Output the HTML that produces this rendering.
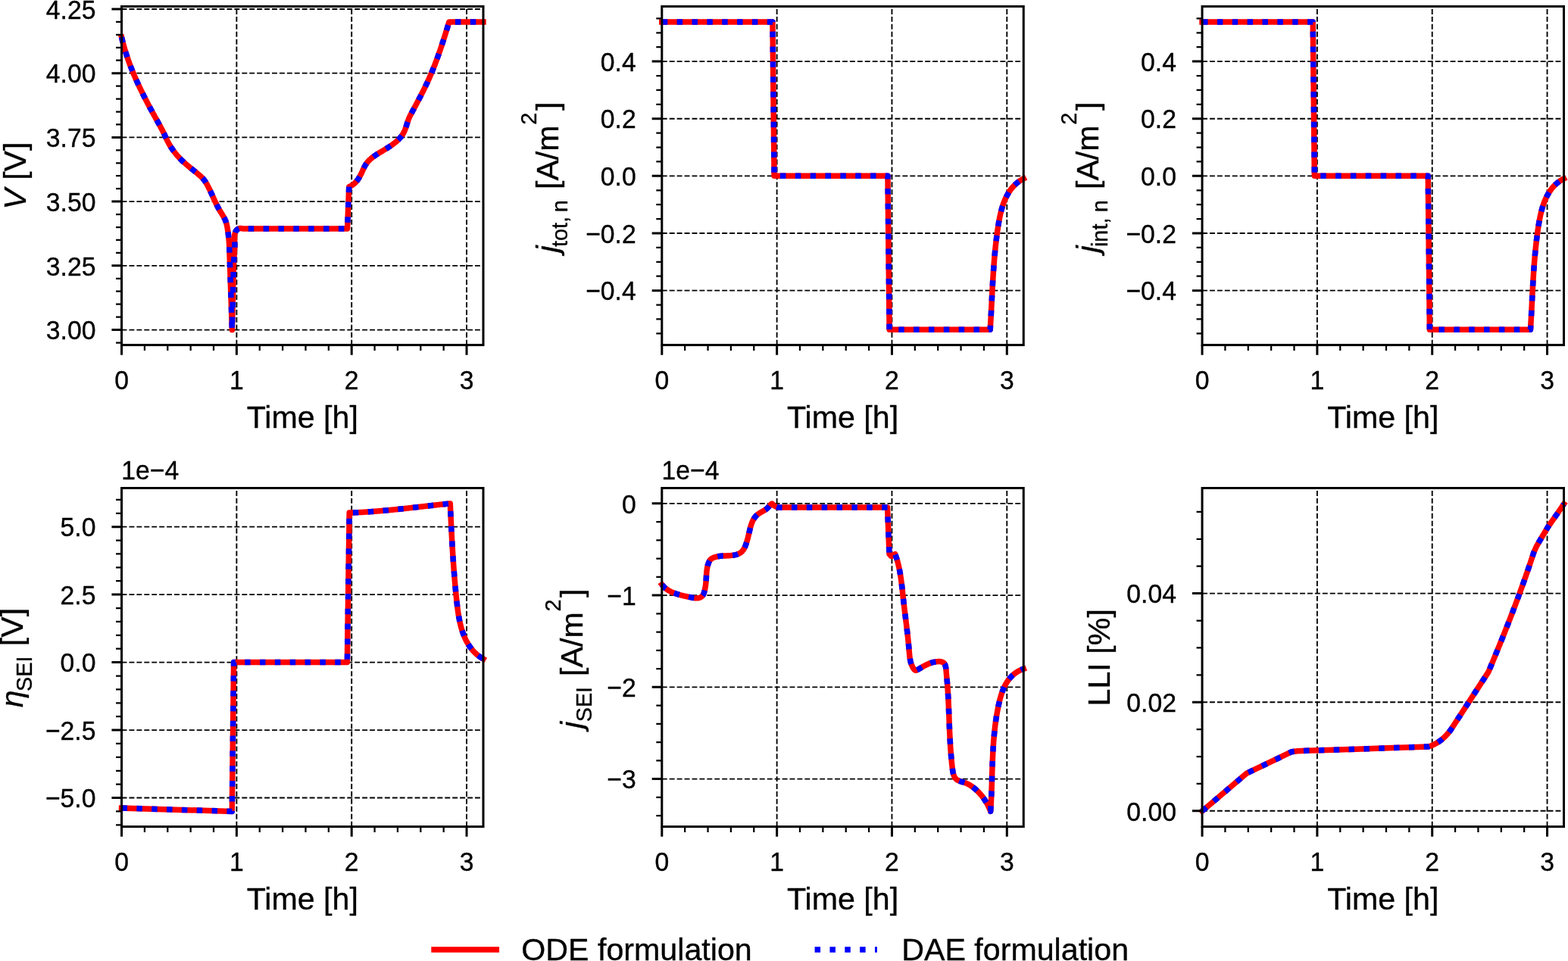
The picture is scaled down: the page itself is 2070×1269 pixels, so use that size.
<!DOCTYPE html>
<html lang="en">
<head>
<meta charset="utf-8">
<title>ODE vs DAE formulation</title>
<style>
html,body{margin:0;padding:0;background:#fff}
body{width:2070px;height:1269px;overflow:hidden}
svg{display:block}
text{font-family:"Liberation Sans",Arial,Helvetica,sans-serif;fill:#000;stroke:#000;stroke-width:0.35px;stroke-linejoin:round}
.tk{font-size:33.7px}
.lb{font-size:41.2px}
.li{font-size:41.2px;font-style:italic}
.sb{font-size:28.84px}
.grid{fill:none;stroke:#000;stroke-width:1.8725;stroke-dasharray:6.9283 2.9960}
.ode{fill:none;stroke:#f00;stroke-width:7.4900;stroke-linecap:square;stroke-linejoin:round}
.dae{fill:none;stroke:#00f;stroke-width:7.4900;stroke-dasharray:7.4900 12.3585;stroke-linejoin:round}
.mj{fill:none;stroke:#000;stroke-width:3}
.mn{fill:none;stroke:#000;stroke-width:2.25}
.sp{fill:none;stroke:#000;stroke-width:3;stroke-linejoin:miter}
</style>
</head>
<body>
<svg width="2070" height="1269" viewBox="0 0 2070 1269">
<rect x="0" y="0" width="2070" height="1269" fill="#fff"/>
<g id="ax1">
<path class="grid" d="M160.55 455.6V8.5M312.38 455.6V8.5M464.21 455.6V8.5M616.04 455.6V8.5M160.55 435.57H638M160.55 350.85H638M160.55 266.12H638M160.55 181.4H638M160.55 96.67H638M160.55 11.94H638"/>
<path class="ode" d="M160.5 49.1L160.84 50.56L161.18 52.03L161.54 53.48L161.9 54.94L162.28 56.39L162.66 57.85L163.05 59.29L163.45 60.74L163.85 62.18L164.27 63.62L164.69 65.06L165.12 66.5L165.56 67.93L166 69.36L166.46 70.79L166.92 72.22L167.38 73.64L167.86 75.06L168.34 76.48L168.83 77.9L169.33 79.31L169.83 80.72L170.34 82.13L170.86 83.54L171.38 84.95L171.91 86.35L172.45 87.75L172.99 89.15L173.54 90.54L174.09 91.94L174.66 93.33L175.22 94.72L175.79 96.11L176.37 97.49L176.96 98.87L177.54 100.25L178.14 101.63L178.74 103.01L179.34 104.39L179.95 105.76L180.57 107.13L181.19 108.5L181.81 109.86L182.44 111.23L183.07 112.59L183.71 113.95L184.36 115.31L185 116.67L185.65 118.02L186.31 119.38L186.97 120.73L187.63 122.08L188.3 123.43L188.97 124.77L189.64 126.12L190.32 127.46L191 128.8L191.68 130.14L192.37 131.48L193.06 132.81L193.75 134.15L194.44 135.48L195.14 136.81L195.84 138.14L196.55 139.47L197.25 140.79L197.96 142.12L198.67 143.44L199.38 144.76L200.1 146.08L200.82 147.4L201.53 148.72L202.25 150.03L202.98 151.34L203.7 152.66L204.42 153.97L205.15 155.28L205.87 156.59L206.6 157.9L207.32 159.21L208.05 160.52L208.77 161.83L209.49 163.14L210.21 164.45L210.92 165.76L211.64 167.08L212.35 168.39L213.06 169.71L213.76 171.03L214.46 172.36L215.14 173.69L215.82 175.02L216.47 176.37L217.11 177.72L217.75 179.07L218.38 180.43L219 181.79L219.64 183.14L220.28 184.49L220.93 185.84L221.6 187.17L222.29 188.5L223.01 189.81L223.75 191.11L224.51 192.4L225.3 193.68L226.11 194.94L226.94 196.19L227.79 197.43L228.66 198.66L229.55 199.87L230.46 201.07L231.39 202.25L232.34 203.42L233.31 204.58L234.29 205.72L235.29 206.84L236.31 207.95L237.34 209.05L238.39 210.13L239.45 211.2L240.53 212.24L241.63 213.28L242.73 214.3L243.85 215.3L244.98 216.3L246.11 217.28L247.26 218.25L248.41 219.21L249.57 220.17L250.73 221.12L251.9 222.07L253.07 223.01L254.24 223.95L255.42 224.89L256.59 225.83L257.76 226.77L258.92 227.72L260.09 228.67L261.24 229.62L262.39 230.59L263.54 231.56L264.66 232.55L265.75 233.56L266.81 234.6L267.83 235.67L268.79 236.79L269.7 237.96L270.55 239.16L271.36 240.4L272.13 241.67L272.88 242.95L273.61 244.25L274.32 245.56L275.02 246.88L275.7 248.21L276.37 249.55L277.02 250.9L277.67 252.25L278.31 253.61L278.94 254.98L279.56 256.35L280.18 257.72L280.8 259.1L281.42 260.47L282.04 261.85L282.66 263.22L283.29 264.59L283.92 265.96L284.55 267.33L285.2 268.69L285.86 270.05L286.53 271.39L287.21 272.73L287.91 274.07L288.62 275.39L289.35 276.7L290.1 278L290.88 279.28L291.67 280.56L292.47 281.82L293.27 283.09L294.06 284.36L294.83 285.63L295.57 286.92L296.27 288.23L296.92 289.56L297.52 290.92L298.05 292.31L298.52 293.72L298.93 295.17L299.3 296.63L299.63 298.1L299.92 299.59L300.19 301.09L300.43 302.59L300.67 304.08L300.89 305.58L301.09 307.08L301.29 308.57L301.47 310.06L301.64 311.56L301.8 313.05L301.95 314.54L302.08 316.03L302.21 317.52L302.33 319.02L302.43 320.51L302.53 322L302.61 323.5L302.69 324.99L302.76 326.49L302.81 327.99L302.86 329.5L302.9 331L303.6 350.85L306.4 435.55L308.4 350.85L309.4 331L309.65 329.5L309.82 328L309.91 326.5L309.94 325L309.93 323.49L309.88 321.98L309.8 320.45L309.73 318.92L309.66 317.38L309.61 315.83L309.6 314.26L309.63 312.68L309.73 311.1L309.93 309.55L310.23 308.05L310.68 306.63L311.28 305.33L312.06 304.16L313.04 303.17L314.18 302.38L315.5 301.83L316.99 301.54L318.62 301.55L320.4 301.9L458.6 301.9L460.75 246.6L462.22 245.97L463.6 245.27L464.91 244.49L466.15 243.64L467.32 242.72L468.42 241.74L469.47 240.71L470.45 239.62L471.39 238.49L472.28 237.3L473.12 236.08L473.92 234.82L474.69 233.53L475.42 232.2L476.13 230.85L476.81 229.48L477.47 228.09L478.11 226.69L478.75 225.29L479.39 223.89L480.04 222.49L480.71 221.12L481.41 219.77L482.14 218.45L482.91 217.16L483.74 215.93L484.62 214.74L485.56 213.6L486.54 212.51L487.57 211.46L488.64 210.44L489.75 209.46L490.9 208.52L492.07 207.6L493.27 206.71L494.49 205.84L495.73 205L496.99 204.17L498.25 203.35L499.53 202.55L500.81 201.76L502.1 200.97L503.4 200.19L504.69 199.42L505.99 198.64L507.29 197.87L508.59 197.09L509.89 196.3L511.18 195.51L512.46 194.71L513.74 193.9L515.01 193.07L516.26 192.22L517.51 191.36L518.74 190.47L519.95 189.57L521.15 188.63L522.33 187.67L523.49 186.68L524.62 185.67L525.71 184.62L526.78 183.54L527.81 182.43L528.79 181.3L529.73 180.13L530.62 178.92L531.46 177.69L532.24 176.42L532.95 175.12L533.62 173.78L534.23 172.42L534.79 171.04L535.32 169.63L535.82 168.21L536.29 166.78L536.75 165.34L537.2 163.9L537.65 162.45L538.11 161.02L538.59 159.59L539.1 158.17L539.64 156.77L540.22 155.39L540.85 154.03L541.51 152.68L542.2 151.35L542.9 150.03L543.61 148.71L544.32 147.38L545.03 146.06L545.75 144.74L546.46 143.41L547.17 142.09L547.88 140.76L548.59 139.43L549.3 138.1L550.01 136.78L550.72 135.44L551.43 134.11L552.13 132.78L552.83 131.44L553.53 130.11L554.23 128.77L554.93 127.43L555.62 126.09L556.31 124.75L556.99 123.4L557.68 122.05L558.36 120.71L559.03 119.36L559.7 118L560.37 116.65L561.03 115.29L561.69 113.93L562.34 112.57L562.99 111.21L563.63 109.85L564.27 108.48L564.9 107.11L565.52 105.73L566.14 104.36L566.76 102.98L567.36 101.6L567.97 100.22L568.56 98.83L569.15 97.45L569.74 96.06L570.32 94.67L570.89 93.27L571.46 91.88L572.03 90.48L572.59 89.08L573.14 87.68L573.69 86.28L574.24 84.87L574.78 83.46L575.31 82.05L575.84 80.64L576.37 79.23L576.89 77.82L577.41 76.4L577.93 74.98L578.44 73.56L578.95 72.14L579.45 70.72L579.95 69.3L580.44 67.88L580.94 66.45L581.43 65.02L581.91 63.6L582.39 62.17L582.87 60.74L583.35 59.3L583.82 57.87L584.29 56.44L584.76 55L585.23 53.57L585.69 52.13L586.15 50.7L586.6 49.26L587.06 47.82L587.51 46.38L587.96 44.94L588.41 43.5L588.86 42.06L589.3 40.62L589.74 39.18L590.18 37.74L590.62 36.29L591.06 34.85L591.5 33.41L591.93 31.97L592.37 30.52L592.8 29.08L638 29.08"/>
<path class="dae" d="M160.5 49.1L160.84 50.56L161.18 52.03L161.54 53.48L161.9 54.94L162.28 56.39L162.66 57.85L163.05 59.29L163.45 60.74L163.85 62.18L164.27 63.62L164.69 65.06L165.12 66.5L165.56 67.93L166 69.36L166.46 70.79L166.92 72.22L167.38 73.64L167.86 75.06L168.34 76.48L168.83 77.9L169.33 79.31L169.83 80.72L170.34 82.13L170.86 83.54L171.38 84.95L171.91 86.35L172.45 87.75L172.99 89.15L173.54 90.54L174.09 91.94L174.66 93.33L175.22 94.72L175.79 96.11L176.37 97.49L176.96 98.87L177.54 100.25L178.14 101.63L178.74 103.01L179.34 104.39L179.95 105.76L180.57 107.13L181.19 108.5L181.81 109.86L182.44 111.23L183.07 112.59L183.71 113.95L184.36 115.31L185 116.67L185.65 118.02L186.31 119.38L186.97 120.73L187.63 122.08L188.3 123.43L188.97 124.77L189.64 126.12L190.32 127.46L191 128.8L191.68 130.14L192.37 131.48L193.06 132.81L193.75 134.15L194.44 135.48L195.14 136.81L195.84 138.14L196.55 139.47L197.25 140.79L197.96 142.12L198.67 143.44L199.38 144.76L200.1 146.08L200.82 147.4L201.53 148.72L202.25 150.03L202.98 151.34L203.7 152.66L204.42 153.97L205.15 155.28L205.87 156.59L206.6 157.9L207.32 159.21L208.05 160.52L208.77 161.83L209.49 163.14L210.21 164.45L210.92 165.76L211.64 167.08L212.35 168.39L213.06 169.71L213.76 171.03L214.46 172.36L215.14 173.69L215.82 175.02L216.47 176.37L217.11 177.72L217.75 179.07L218.38 180.43L219 181.79L219.64 183.14L220.28 184.49L220.93 185.84L221.6 187.17L222.29 188.5L223.01 189.81L223.75 191.11L224.51 192.4L225.3 193.68L226.11 194.94L226.94 196.19L227.79 197.43L228.66 198.66L229.55 199.87L230.46 201.07L231.39 202.25L232.34 203.42L233.31 204.58L234.29 205.72L235.29 206.84L236.31 207.95L237.34 209.05L238.39 210.13L239.45 211.2L240.53 212.24L241.63 213.28L242.73 214.3L243.85 215.3L244.98 216.3L246.11 217.28L247.26 218.25L248.41 219.21L249.57 220.17L250.73 221.12L251.9 222.07L253.07 223.01L254.24 223.95L255.42 224.89L256.59 225.83L257.76 226.77L258.92 227.72L260.09 228.67L261.24 229.62L262.39 230.59L263.54 231.56L264.66 232.55L265.75 233.56L266.81 234.6L267.83 235.67L268.79 236.79L269.7 237.96L270.55 239.16L271.36 240.4L272.13 241.67L272.88 242.95L273.61 244.25L274.32 245.56L275.02 246.88L275.7 248.21L276.37 249.55L277.02 250.9L277.67 252.25L278.31 253.61L278.94 254.98L279.56 256.35L280.18 257.72L280.8 259.1L281.42 260.47L282.04 261.85L282.66 263.22L283.29 264.59L283.92 265.96L284.55 267.33L285.2 268.69L285.86 270.05L286.53 271.39L287.21 272.73L287.91 274.07L288.62 275.39L289.35 276.7L290.1 278L290.88 279.28L291.67 280.56L292.47 281.82L293.27 283.09L294.06 284.36L294.83 285.63L295.57 286.92L296.27 288.23L296.92 289.56L297.52 290.92L298.05 292.31L298.52 293.72L298.93 295.17L299.3 296.63L299.63 298.1L299.92 299.59L300.19 301.09L300.43 302.59L300.67 304.08L300.89 305.58L301.09 307.08L301.29 308.57L301.47 310.06L301.64 311.56L301.8 313.05L301.95 314.54L302.08 316.03L302.21 317.52L302.33 319.02L302.43 320.51L302.53 322L302.61 323.5L302.69 324.99L302.76 326.49L302.81 327.99L302.86 329.5L302.9 331L303.6 350.85L306.4 435.55L308.4 350.85L309.4 331L309.65 329.5L309.82 328L309.91 326.5L309.94 325L309.93 323.49L309.88 321.98L309.8 320.45L309.73 318.92L309.66 317.38L309.61 315.83L309.6 314.26L309.63 312.68L309.73 311.1L309.93 309.55L310.23 308.05L310.68 306.63L311.28 305.33L312.06 304.16L313.04 303.17L314.18 302.38L315.5 301.83L316.99 301.54L318.62 301.55L320.4 301.9L458.6 301.9L460.75 246.6L462.22 245.97L463.6 245.27L464.91 244.49L466.15 243.64L467.32 242.72L468.42 241.74L469.47 240.71L470.45 239.62L471.39 238.49L472.28 237.3L473.12 236.08L473.92 234.82L474.69 233.53L475.42 232.2L476.13 230.85L476.81 229.48L477.47 228.09L478.11 226.69L478.75 225.29L479.39 223.89L480.04 222.49L480.71 221.12L481.41 219.77L482.14 218.45L482.91 217.16L483.74 215.93L484.62 214.74L485.56 213.6L486.54 212.51L487.57 211.46L488.64 210.44L489.75 209.46L490.9 208.52L492.07 207.6L493.27 206.71L494.49 205.84L495.73 205L496.99 204.17L498.25 203.35L499.53 202.55L500.81 201.76L502.1 200.97L503.4 200.19L504.69 199.42L505.99 198.64L507.29 197.87L508.59 197.09L509.89 196.3L511.18 195.51L512.46 194.71L513.74 193.9L515.01 193.07L516.26 192.22L517.51 191.36L518.74 190.47L519.95 189.57L521.15 188.63L522.33 187.67L523.49 186.68L524.62 185.67L525.71 184.62L526.78 183.54L527.81 182.43L528.79 181.3L529.73 180.13L530.62 178.92L531.46 177.69L532.24 176.42L532.95 175.12L533.62 173.78L534.23 172.42L534.79 171.04L535.32 169.63L535.82 168.21L536.29 166.78L536.75 165.34L537.2 163.9L537.65 162.45L538.11 161.02L538.59 159.59L539.1 158.17L539.64 156.77L540.22 155.39L540.85 154.03L541.51 152.68L542.2 151.35L542.9 150.03L543.61 148.71L544.32 147.38L545.03 146.06L545.75 144.74L546.46 143.41L547.17 142.09L547.88 140.76L548.59 139.43L549.3 138.1L550.01 136.78L550.72 135.44L551.43 134.11L552.13 132.78L552.83 131.44L553.53 130.11L554.23 128.77L554.93 127.43L555.62 126.09L556.31 124.75L556.99 123.4L557.68 122.05L558.36 120.71L559.03 119.36L559.7 118L560.37 116.65L561.03 115.29L561.69 113.93L562.34 112.57L562.99 111.21L563.63 109.85L564.27 108.48L564.9 107.11L565.52 105.73L566.14 104.36L566.76 102.98L567.36 101.6L567.97 100.22L568.56 98.83L569.15 97.45L569.74 96.06L570.32 94.67L570.89 93.27L571.46 91.88L572.03 90.48L572.59 89.08L573.14 87.68L573.69 86.28L574.24 84.87L574.78 83.46L575.31 82.05L575.84 80.64L576.37 79.23L576.89 77.82L577.41 76.4L577.93 74.98L578.44 73.56L578.95 72.14L579.45 70.72L579.95 69.3L580.44 67.88L580.94 66.45L581.43 65.02L581.91 63.6L582.39 62.17L582.87 60.74L583.35 59.3L583.82 57.87L584.29 56.44L584.76 55L585.23 53.57L585.69 52.13L586.15 50.7L586.6 49.26L587.06 47.82L587.51 46.38L587.96 44.94L588.41 43.5L588.86 42.06L589.3 40.62L589.74 39.18L590.18 37.74L590.62 36.29L591.06 34.85L591.5 33.41L591.93 31.97L592.37 30.52L592.8 29.08L638 29.08"/>
<path class="mn" d="M190.92 455.6v7.49M221.28 455.6v7.49M251.65 455.6v7.49M282.01 455.6v7.49M342.75 455.6v7.49M373.11 455.6v7.49M403.48 455.6v7.49M433.84 455.6v7.49M494.58 455.6v7.49M524.94 455.6v7.49M555.31 455.6v7.49M585.67 455.6v7.49M160.55 452.51h-7.49M160.55 418.63h-7.49M160.55 401.68h-7.49M160.55 384.74h-7.49M160.55 367.79h-7.49M160.55 333.9h-7.49M160.55 316.95h-7.49M160.55 300.01h-7.49M160.55 283.06h-7.49M160.55 249.18h-7.49M160.55 232.23h-7.49M160.55 215.29h-7.49M160.55 198.34h-7.49M160.55 164.45h-7.49M160.55 147.5h-7.49M160.55 130.56h-7.49M160.55 113.61h-7.49M160.55 79.73h-7.49M160.55 62.78h-7.49M160.55 45.83h-7.49M160.55 28.89h-7.49"/>
<path class="mj" d="M160.55 455.6v13.11M312.38 455.6v13.11M464.21 455.6v13.11M616.04 455.6v13.11M160.55 435.57h-13.11M160.55 350.85h-13.11M160.55 266.12h-13.11M160.55 181.4h-13.11M160.55 96.67h-13.11M160.55 11.94h-13.11"/>
<rect class="sp" x="160.55" y="8.5" width="477.45" height="447.1"/>
<text class="tk" text-anchor="middle" transform="translate(160.55 514.2) scale(1 1.06)">0</text>
<text class="tk" text-anchor="middle" transform="translate(312.38 514.2) scale(1 1.06)">1</text>
<text class="tk" text-anchor="middle" transform="translate(464.21 514.2) scale(1 1.06)">2</text>
<text class="tk" text-anchor="middle" transform="translate(616.04 514.2) scale(1 1.06)">3</text>
<text class="tk" text-anchor="end" transform="translate(126.45 448.32) scale(1 1.06)">3.00</text>
<text class="tk" text-anchor="end" transform="translate(126.45 363.6) scale(1 1.06)">3.25</text>
<text class="tk" text-anchor="end" transform="translate(126.45 278.87) scale(1 1.06)">3.50</text>
<text class="tk" text-anchor="end" transform="translate(126.45 194.15) scale(1 1.06)">3.75</text>
<text class="tk" text-anchor="end" transform="translate(126.45 109.42) scale(1 1.06)">4.00</text>
<text class="tk" text-anchor="end" transform="translate(126.45 24.69) scale(1 1.06)">4.25</text>
<text class="lb" text-anchor="middle" x="399.27" y="564.9">Time [h]</text>
<g transform="translate(34.1 232.05) rotate(-90)">
<text class="li" x="-44.6" y="0">V</text>
<text class="lb" x="-5.8" y="0">[V]</text>
</g>
</g>
<g id="ax2">
<path class="grid" d="M873.8 455.6V8.5M1025.63 455.6V8.5M1177.46 455.6V8.5M1329.29 455.6V8.5M873.8 383.65H1351.25M873.8 308.01H1351.25M873.8 232.37H1351.25M873.8 156.73H1351.25M873.8 81.09H1351.25"/>
<path class="ode" d="M873.8 29L1019.95 29L1022.07 232.2L1172 232.2L1174.1 435.3L1307.2 435.3L1307.3 433.79L1307.39 432.27L1307.48 430.76L1307.57 429.25L1307.66 427.74L1307.75 426.23L1307.83 424.72L1307.92 423.21L1308 421.71L1308.09 420.2L1308.17 418.7L1308.25 417.2L1308.33 415.69L1308.41 414.19L1308.49 412.69L1308.57 411.19L1308.64 409.69L1308.72 408.2L1308.8 406.7L1308.87 405.2L1308.95 403.71L1309.02 402.21L1309.1 400.72L1309.17 399.22L1309.25 397.73L1309.32 396.24L1309.4 394.75L1309.48 393.25L1309.55 391.76L1309.63 390.27L1309.7 388.78L1309.78 387.29L1309.86 385.8L1309.94 384.31L1310.01 382.82L1310.09 381.34L1310.17 379.85L1310.26 378.36L1310.34 376.87L1310.42 375.38L1310.5 373.9L1310.59 372.41L1310.68 370.92L1310.76 369.43L1310.85 367.94L1310.94 366.46L1311.04 364.97L1311.13 363.48L1311.23 361.99L1311.32 360.51L1311.42 359.02L1311.52 357.53L1311.63 356.04L1311.73 354.55L1311.84 353.06L1311.95 351.57L1312.06 350.08L1312.17 348.59L1312.29 347.1L1312.41 345.61L1312.53 344.12L1312.65 342.63L1312.78 341.14L1312.91 339.64L1313.04 338.15L1313.17 336.66L1313.31 335.16L1313.45 333.67L1313.59 332.17L1313.74 330.67L1313.89 329.18L1314.04 327.68L1314.2 326.18L1314.36 324.68L1314.52 323.18L1314.69 321.68L1314.86 320.18L1315.03 318.67L1315.21 317.17L1315.39 315.66L1315.58 314.16L1315.77 312.65L1315.96 311.14L1316.16 309.63L1316.36 308.12L1316.57 306.61L1316.78 305.1L1316.99 303.58L1317.21 302.07L1317.44 300.55L1317.67 299.03L1317.9 297.52L1318.15 296L1318.4 294.49L1318.65 292.98L1318.92 291.47L1319.2 289.96L1319.49 288.46L1319.78 286.96L1320.09 285.46L1320.42 283.98L1320.75 282.49L1321.1 281.02L1321.46 279.55L1321.84 278.09L1322.23 276.63L1322.64 275.19L1323.07 273.76L1323.51 272.33L1323.98 270.92L1324.46 269.52L1324.96 268.13L1325.48 266.75L1326.02 265.38L1326.58 264.03L1327.17 262.69L1327.78 261.37L1328.41 260.06L1329.07 258.77L1329.75 257.49L1330.45 256.23L1331.19 254.99L1331.95 253.77L1332.74 252.57L1333.55 251.38L1334.4 250.22L1335.28 249.08L1336.19 247.97L1337.13 246.87L1338.1 245.8L1339.11 244.76L1340.16 243.74L1341.24 242.75L1342.35 241.79L1343.5 240.85L1344.69 239.95L1345.92 239.08L1347.19 238.23L1348.5 237.42L1349.86 236.64L1351.25 235.9"/>
<path class="dae" d="M873.8 29L1019.95 29L1022.07 232.2L1172 232.2L1174.1 435.3L1307.2 435.3L1307.3 433.79L1307.39 432.27L1307.48 430.76L1307.57 429.25L1307.66 427.74L1307.75 426.23L1307.83 424.72L1307.92 423.21L1308 421.71L1308.09 420.2L1308.17 418.7L1308.25 417.2L1308.33 415.69L1308.41 414.19L1308.49 412.69L1308.57 411.19L1308.64 409.69L1308.72 408.2L1308.8 406.7L1308.87 405.2L1308.95 403.71L1309.02 402.21L1309.1 400.72L1309.17 399.22L1309.25 397.73L1309.32 396.24L1309.4 394.75L1309.48 393.25L1309.55 391.76L1309.63 390.27L1309.7 388.78L1309.78 387.29L1309.86 385.8L1309.94 384.31L1310.01 382.82L1310.09 381.34L1310.17 379.85L1310.26 378.36L1310.34 376.87L1310.42 375.38L1310.5 373.9L1310.59 372.41L1310.68 370.92L1310.76 369.43L1310.85 367.94L1310.94 366.46L1311.04 364.97L1311.13 363.48L1311.23 361.99L1311.32 360.51L1311.42 359.02L1311.52 357.53L1311.63 356.04L1311.73 354.55L1311.84 353.06L1311.95 351.57L1312.06 350.08L1312.17 348.59L1312.29 347.1L1312.41 345.61L1312.53 344.12L1312.65 342.63L1312.78 341.14L1312.91 339.64L1313.04 338.15L1313.17 336.66L1313.31 335.16L1313.45 333.67L1313.59 332.17L1313.74 330.67L1313.89 329.18L1314.04 327.68L1314.2 326.18L1314.36 324.68L1314.52 323.18L1314.69 321.68L1314.86 320.18L1315.03 318.67L1315.21 317.17L1315.39 315.66L1315.58 314.16L1315.77 312.65L1315.96 311.14L1316.16 309.63L1316.36 308.12L1316.57 306.61L1316.78 305.1L1316.99 303.58L1317.21 302.07L1317.44 300.55L1317.67 299.03L1317.9 297.52L1318.15 296L1318.4 294.49L1318.65 292.98L1318.92 291.47L1319.2 289.96L1319.49 288.46L1319.78 286.96L1320.09 285.46L1320.42 283.98L1320.75 282.49L1321.1 281.02L1321.46 279.55L1321.84 278.09L1322.23 276.63L1322.64 275.19L1323.07 273.76L1323.51 272.33L1323.98 270.92L1324.46 269.52L1324.96 268.13L1325.48 266.75L1326.02 265.38L1326.58 264.03L1327.17 262.69L1327.78 261.37L1328.41 260.06L1329.07 258.77L1329.75 257.49L1330.45 256.23L1331.19 254.99L1331.95 253.77L1332.74 252.57L1333.55 251.38L1334.4 250.22L1335.28 249.08L1336.19 247.97L1337.13 246.87L1338.1 245.8L1339.11 244.76L1340.16 243.74L1341.24 242.75L1342.35 241.79L1343.5 240.85L1344.69 239.95L1345.92 239.08L1347.19 238.23L1348.5 237.42L1349.86 236.64L1351.25 235.9"/>
<path class="mn" d="M904.17 455.6v7.49M934.53 455.6v7.49M964.9 455.6v7.49M995.26 455.6v7.49M1056 455.6v7.49M1086.36 455.6v7.49M1116.73 455.6v7.49M1147.09 455.6v7.49M1207.83 455.6v7.49M1238.19 455.6v7.49M1268.56 455.6v7.49M1298.92 455.6v7.49M873.8 440.38h-7.49M873.8 421.47h-7.49M873.8 402.56h-7.49M873.8 364.74h-7.49M873.8 345.83h-7.49M873.8 326.92h-7.49M873.8 289.1h-7.49M873.8 270.19h-7.49M873.8 251.28h-7.49M873.8 213.46h-7.49M873.8 194.55h-7.49M873.8 175.64h-7.49M873.8 137.82h-7.49M873.8 118.91h-7.49M873.8 100h-7.49M873.8 62.18h-7.49M873.8 43.27h-7.49M873.8 24.36h-7.49"/>
<path class="mj" d="M873.8 455.6v13.11M1025.63 455.6v13.11M1177.46 455.6v13.11M1329.29 455.6v13.11M873.8 383.65h-13.11M873.8 308.01h-13.11M873.8 232.37h-13.11M873.8 156.73h-13.11M873.8 81.09h-13.11"/>
<rect class="sp" x="873.8" y="8.5" width="477.45" height="447.1"/>
<text class="tk" text-anchor="middle" transform="translate(873.8 514.2) scale(1 1.06)">0</text>
<text class="tk" text-anchor="middle" transform="translate(1025.63 514.2) scale(1 1.06)">1</text>
<text class="tk" text-anchor="middle" transform="translate(1177.46 514.2) scale(1 1.06)">2</text>
<text class="tk" text-anchor="middle" transform="translate(1329.29 514.2) scale(1 1.06)">3</text>
<text class="tk" text-anchor="end" transform="translate(839.7 396.4) scale(1 1.06)">−0.4</text>
<text class="tk" text-anchor="end" transform="translate(839.7 320.76) scale(1 1.06)">−0.2</text>
<text class="tk" text-anchor="end" transform="translate(839.7 245.12) scale(1 1.06)">0.0</text>
<text class="tk" text-anchor="end" transform="translate(839.7 169.48) scale(1 1.06)">0.2</text>
<text class="tk" text-anchor="end" transform="translate(839.7 93.84) scale(1 1.06)">0.4</text>
<text class="lb" text-anchor="middle" x="1112.53" y="564.9">Time [h]</text>
<g transform="translate(737.2 232.05) rotate(-90)">
<text class="li" x="-101.5" y="0">j</text>
<text class="sb" x="-94" y="11.9">tot,</text>
<text class="sb" x="-48.2" y="11.9">n</text>
<text class="lb" x="-18" y="0">[A/m</text>
<text class="sb" x="67.4" y="-29.3">2</text>
<text class="lb" x="85.95" y="0">]</text>
</g>
</g>
<g id="ax3">
<path class="grid" d="M1587.05 455.6V8.5M1738.88 455.6V8.5M1890.71 455.6V8.5M2042.54 455.6V8.5M1587.05 383.65H2064.5M1587.05 308.01H2064.5M1587.05 232.37H2064.5M1587.05 156.73H2064.5M1587.05 81.09H2064.5"/>
<path class="ode" d="M1587.05 29L1733.2 29L1735.32 232.2L1885.25 232.2L1887.35 435.3L2020.45 435.3L2020.55 433.79L2020.64 432.27L2020.73 430.76L2020.82 429.25L2020.91 427.74L2021 426.23L2021.08 424.72L2021.17 423.21L2021.25 421.71L2021.34 420.2L2021.42 418.7L2021.5 417.2L2021.58 415.69L2021.66 414.19L2021.74 412.69L2021.82 411.19L2021.89 409.69L2021.97 408.2L2022.05 406.7L2022.12 405.2L2022.2 403.71L2022.27 402.21L2022.35 400.72L2022.42 399.22L2022.5 397.73L2022.57 396.24L2022.65 394.75L2022.73 393.25L2022.8 391.76L2022.88 390.27L2022.95 388.78L2023.03 387.29L2023.11 385.8L2023.19 384.31L2023.26 382.82L2023.34 381.34L2023.42 379.85L2023.51 378.36L2023.59 376.87L2023.67 375.38L2023.75 373.9L2023.84 372.41L2023.93 370.92L2024.01 369.43L2024.1 367.94L2024.19 366.46L2024.29 364.97L2024.38 363.48L2024.48 361.99L2024.57 360.51L2024.67 359.02L2024.77 357.53L2024.88 356.04L2024.98 354.55L2025.09 353.06L2025.2 351.57L2025.31 350.08L2025.42 348.59L2025.54 347.1L2025.66 345.61L2025.78 344.12L2025.9 342.63L2026.03 341.14L2026.16 339.64L2026.29 338.15L2026.42 336.66L2026.56 335.16L2026.7 333.67L2026.84 332.17L2026.99 330.67L2027.14 329.18L2027.29 327.68L2027.45 326.18L2027.61 324.68L2027.77 323.18L2027.94 321.68L2028.11 320.18L2028.28 318.67L2028.46 317.17L2028.64 315.66L2028.83 314.16L2029.02 312.65L2029.21 311.14L2029.41 309.63L2029.61 308.12L2029.82 306.61L2030.03 305.1L2030.24 303.58L2030.46 302.07L2030.69 300.55L2030.92 299.03L2031.15 297.52L2031.4 296L2031.65 294.49L2031.9 292.98L2032.17 291.47L2032.45 289.96L2032.74 288.46L2033.03 286.96L2033.34 285.46L2033.67 283.98L2034 282.49L2034.35 281.02L2034.71 279.55L2035.09 278.09L2035.48 276.63L2035.89 275.19L2036.32 273.76L2036.76 272.33L2037.23 270.92L2037.71 269.52L2038.21 268.13L2038.73 266.75L2039.27 265.38L2039.83 264.03L2040.42 262.69L2041.03 261.37L2041.66 260.06L2042.32 258.77L2043 257.49L2043.7 256.23L2044.44 254.99L2045.2 253.77L2045.99 252.57L2046.8 251.38L2047.65 250.22L2048.53 249.08L2049.44 247.97L2050.38 246.87L2051.35 245.8L2052.36 244.76L2053.41 243.74L2054.49 242.75L2055.6 241.79L2056.75 240.85L2057.94 239.95L2059.17 239.08L2060.44 238.23L2061.75 237.42L2063.11 236.64L2064.5 235.9"/>
<path class="dae" d="M1587.05 29L1733.2 29L1735.32 232.2L1885.25 232.2L1887.35 435.3L2020.45 435.3L2020.55 433.79L2020.64 432.27L2020.73 430.76L2020.82 429.25L2020.91 427.74L2021 426.23L2021.08 424.72L2021.17 423.21L2021.25 421.71L2021.34 420.2L2021.42 418.7L2021.5 417.2L2021.58 415.69L2021.66 414.19L2021.74 412.69L2021.82 411.19L2021.89 409.69L2021.97 408.2L2022.05 406.7L2022.12 405.2L2022.2 403.71L2022.27 402.21L2022.35 400.72L2022.42 399.22L2022.5 397.73L2022.57 396.24L2022.65 394.75L2022.73 393.25L2022.8 391.76L2022.88 390.27L2022.95 388.78L2023.03 387.29L2023.11 385.8L2023.19 384.31L2023.26 382.82L2023.34 381.34L2023.42 379.85L2023.51 378.36L2023.59 376.87L2023.67 375.38L2023.75 373.9L2023.84 372.41L2023.93 370.92L2024.01 369.43L2024.1 367.94L2024.19 366.46L2024.29 364.97L2024.38 363.48L2024.48 361.99L2024.57 360.51L2024.67 359.02L2024.77 357.53L2024.88 356.04L2024.98 354.55L2025.09 353.06L2025.2 351.57L2025.31 350.08L2025.42 348.59L2025.54 347.1L2025.66 345.61L2025.78 344.12L2025.9 342.63L2026.03 341.14L2026.16 339.64L2026.29 338.15L2026.42 336.66L2026.56 335.16L2026.7 333.67L2026.84 332.17L2026.99 330.67L2027.14 329.18L2027.29 327.68L2027.45 326.18L2027.61 324.68L2027.77 323.18L2027.94 321.68L2028.11 320.18L2028.28 318.67L2028.46 317.17L2028.64 315.66L2028.83 314.16L2029.02 312.65L2029.21 311.14L2029.41 309.63L2029.61 308.12L2029.82 306.61L2030.03 305.1L2030.24 303.58L2030.46 302.07L2030.69 300.55L2030.92 299.03L2031.15 297.52L2031.4 296L2031.65 294.49L2031.9 292.98L2032.17 291.47L2032.45 289.96L2032.74 288.46L2033.03 286.96L2033.34 285.46L2033.67 283.98L2034 282.49L2034.35 281.02L2034.71 279.55L2035.09 278.09L2035.48 276.63L2035.89 275.19L2036.32 273.76L2036.76 272.33L2037.23 270.92L2037.71 269.52L2038.21 268.13L2038.73 266.75L2039.27 265.38L2039.83 264.03L2040.42 262.69L2041.03 261.37L2041.66 260.06L2042.32 258.77L2043 257.49L2043.7 256.23L2044.44 254.99L2045.2 253.77L2045.99 252.57L2046.8 251.38L2047.65 250.22L2048.53 249.08L2049.44 247.97L2050.38 246.87L2051.35 245.8L2052.36 244.76L2053.41 243.74L2054.49 242.75L2055.6 241.79L2056.75 240.85L2057.94 239.95L2059.17 239.08L2060.44 238.23L2061.75 237.42L2063.11 236.64L2064.5 235.9"/>
<path class="mn" d="M1617.42 455.6v7.49M1647.78 455.6v7.49M1678.15 455.6v7.49M1708.51 455.6v7.49M1769.25 455.6v7.49M1799.61 455.6v7.49M1829.98 455.6v7.49M1860.34 455.6v7.49M1921.08 455.6v7.49M1951.44 455.6v7.49M1981.81 455.6v7.49M2012.17 455.6v7.49M1587.05 440.38h-7.49M1587.05 421.47h-7.49M1587.05 402.56h-7.49M1587.05 364.74h-7.49M1587.05 345.83h-7.49M1587.05 326.92h-7.49M1587.05 289.1h-7.49M1587.05 270.19h-7.49M1587.05 251.28h-7.49M1587.05 213.46h-7.49M1587.05 194.55h-7.49M1587.05 175.64h-7.49M1587.05 137.82h-7.49M1587.05 118.91h-7.49M1587.05 100h-7.49M1587.05 62.18h-7.49M1587.05 43.27h-7.49M1587.05 24.36h-7.49"/>
<path class="mj" d="M1587.05 455.6v13.11M1738.88 455.6v13.11M1890.71 455.6v13.11M2042.54 455.6v13.11M1587.05 383.65h-13.11M1587.05 308.01h-13.11M1587.05 232.37h-13.11M1587.05 156.73h-13.11M1587.05 81.09h-13.11"/>
<rect class="sp" x="1587.05" y="8.5" width="477.45" height="447.1"/>
<text class="tk" text-anchor="middle" transform="translate(1587.05 514.2) scale(1 1.06)">0</text>
<text class="tk" text-anchor="middle" transform="translate(1738.88 514.2) scale(1 1.06)">1</text>
<text class="tk" text-anchor="middle" transform="translate(1890.71 514.2) scale(1 1.06)">2</text>
<text class="tk" text-anchor="middle" transform="translate(2042.54 514.2) scale(1 1.06)">3</text>
<text class="tk" text-anchor="end" transform="translate(1552.95 396.4) scale(1 1.06)">−0.4</text>
<text class="tk" text-anchor="end" transform="translate(1552.95 320.76) scale(1 1.06)">−0.2</text>
<text class="tk" text-anchor="end" transform="translate(1552.95 245.12) scale(1 1.06)">0.0</text>
<text class="tk" text-anchor="end" transform="translate(1552.95 169.48) scale(1 1.06)">0.2</text>
<text class="tk" text-anchor="end" transform="translate(1552.95 93.84) scale(1 1.06)">0.4</text>
<text class="lb" text-anchor="middle" x="1825.78" y="564.9">Time [h]</text>
<g transform="translate(1450.45 232.05) rotate(-90)">
<text class="li" x="-101.5" y="0">j</text>
<text class="sb" x="-94" y="11.9">int,</text>
<text class="sb" x="-48.2" y="11.9">n</text>
<text class="lb" x="-18" y="0">[A/m</text>
<text class="sb" x="67.4" y="-29.3">2</text>
<text class="lb" x="85.95" y="0">]</text>
</g>
</g>
<g id="ax4">
<path class="grid" d="M160.55 1091.6V644.5M312.38 1091.6V644.5M464.21 1091.6V644.5M616.04 1091.6V644.5M160.55 1053.55H638M160.55 964.08H638M160.55 874.6H638M160.55 785.12H638M160.55 695.65H638"/>
<path class="ode" d="M160.55 1067L306.3 1071.4L308.6 874.5L458.4 874.5L461.2 677.1L462.7 677.05L464.21 677L465.71 676.95L467.21 676.89L468.71 676.83L470.21 676.77L471.71 676.7L473.21 676.63L474.71 676.55L476.21 676.47L477.71 676.39L479.21 676.31L480.71 676.22L482.21 676.13L483.71 676.03L485.21 675.94L486.71 675.84L488.21 675.73L489.7 675.63L491.2 675.52L492.7 675.41L494.2 675.29L495.7 675.18L497.19 675.06L498.69 674.94L500.19 674.81L501.68 674.69L503.18 674.56L504.67 674.43L506.17 674.3L507.67 674.16L509.16 674.03L510.66 673.89L512.15 673.75L513.65 673.61L515.14 673.46L516.64 673.32L518.13 673.17L519.63 673.02L521.12 672.87L522.62 672.72L524.11 672.56L525.61 672.41L527.1 672.25L528.59 672.1L530.09 671.94L531.58 671.78L533.08 671.62L534.57 671.46L536.06 671.3L537.56 671.13L539.05 670.97L540.54 670.8L542.04 670.64L543.53 670.47L545.02 670.31L546.52 670.14L548.01 669.97L549.5 669.81L551 669.64L552.49 669.47L553.98 669.3L555.47 669.13L556.97 668.96L558.46 668.79L559.95 668.63L561.45 668.46L562.94 668.29L564.43 668.12L565.93 667.95L567.42 667.79L568.91 667.62L570.4 667.45L571.9 667.29L573.39 667.12L574.88 666.96L576.38 666.79L577.87 666.63L579.36 666.47L580.86 666.3L582.35 666.14L583.84 665.98L585.34 665.83L586.83 665.67L588.32 665.51L589.82 665.36L591.31 665.2L592.81 665.05L594.3 664.9L594.37 666.43L594.44 667.96L594.51 669.48L594.58 671L594.65 672.53L594.71 674.05L594.78 675.57L594.85 677.08L594.92 678.6L594.99 680.11L595.06 681.63L595.14 683.14L595.21 684.65L595.28 686.16L595.35 687.66L595.42 689.17L595.5 690.68L595.57 692.18L595.64 693.68L595.72 695.18L595.79 696.69L595.87 698.19L595.94 699.69L596.02 701.18L596.1 702.68L596.17 704.18L596.25 705.68L596.33 707.17L596.41 708.67L596.49 710.16L596.57 711.65L596.65 713.15L596.74 714.64L596.82 716.13L596.91 717.63L596.99 719.12L597.08 720.61L597.17 722.1L597.25 723.59L597.34 725.08L597.43 726.57L597.53 728.07L597.62 729.56L597.71 731.05L597.81 732.54L597.9 734.03L598 735.52L598.1 737.01L598.2 738.51L598.3 740L598.4 741.49L598.51 742.98L598.61 744.48L598.72 745.97L598.83 747.47L598.93 748.96L599.04 750.46L599.16 751.95L599.27 753.45L599.39 754.95L599.5 756.45L599.62 757.95L599.74 759.45L599.86 760.95L599.98 762.45L600.11 763.96L600.23 765.46L600.36 766.97L600.49 768.47L600.62 769.98L600.76 771.49L600.89 773L601.03 774.51L601.17 776.03L601.31 777.54L601.45 779.06L601.6 780.57L601.74 782.09L601.89 783.61L602.04 785.14L602.19 786.66L602.35 788.19L602.51 789.71L602.67 791.24L602.83 792.77L602.99 794.31L603.16 795.84L603.33 797.37L603.51 798.91L603.69 800.44L603.88 801.97L604.07 803.5L604.27 805.03L604.48 806.56L604.7 808.08L604.92 809.61L605.16 811.12L605.4 812.64L605.66 814.15L605.92 815.65L606.2 817.15L606.49 818.65L606.8 820.13L607.12 821.62L607.45 823.09L607.79 824.56L608.16 826.02L608.53 827.47L608.93 828.91L609.34 830.34L609.77 831.77L610.22 833.18L610.68 834.58L611.17 835.97L611.67 837.35L612.2 838.72L612.75 840.08L613.32 841.42L613.91 842.76L614.52 844.07L615.16 845.38L615.83 846.67L616.51 847.94L617.23 849.2L617.97 850.44L618.73 851.67L619.53 852.88L620.35 854.07L621.2 855.24L622.09 856.39L623 857.52L623.94 858.63L624.92 859.72L625.93 860.79L626.97 861.84L628.05 862.86L629.16 863.85L630.31 864.83L631.5 865.77L632.72 866.69L633.98 867.59L635.28 868.45L636.62 869.29L638 870.1"/>
<path class="dae" d="M160.55 1067L306.3 1071.4L308.6 874.5L458.4 874.5L461.2 677.1L462.7 677.05L464.21 677L465.71 676.95L467.21 676.89L468.71 676.83L470.21 676.77L471.71 676.7L473.21 676.63L474.71 676.55L476.21 676.47L477.71 676.39L479.21 676.31L480.71 676.22L482.21 676.13L483.71 676.03L485.21 675.94L486.71 675.84L488.21 675.73L489.7 675.63L491.2 675.52L492.7 675.41L494.2 675.29L495.7 675.18L497.19 675.06L498.69 674.94L500.19 674.81L501.68 674.69L503.18 674.56L504.67 674.43L506.17 674.3L507.67 674.16L509.16 674.03L510.66 673.89L512.15 673.75L513.65 673.61L515.14 673.46L516.64 673.32L518.13 673.17L519.63 673.02L521.12 672.87L522.62 672.72L524.11 672.56L525.61 672.41L527.1 672.25L528.59 672.1L530.09 671.94L531.58 671.78L533.08 671.62L534.57 671.46L536.06 671.3L537.56 671.13L539.05 670.97L540.54 670.8L542.04 670.64L543.53 670.47L545.02 670.31L546.52 670.14L548.01 669.97L549.5 669.81L551 669.64L552.49 669.47L553.98 669.3L555.47 669.13L556.97 668.96L558.46 668.79L559.95 668.63L561.45 668.46L562.94 668.29L564.43 668.12L565.93 667.95L567.42 667.79L568.91 667.62L570.4 667.45L571.9 667.29L573.39 667.12L574.88 666.96L576.38 666.79L577.87 666.63L579.36 666.47L580.86 666.3L582.35 666.14L583.84 665.98L585.34 665.83L586.83 665.67L588.32 665.51L589.82 665.36L591.31 665.2L592.81 665.05L594.3 664.9L594.37 666.43L594.44 667.96L594.51 669.48L594.58 671L594.65 672.53L594.71 674.05L594.78 675.57L594.85 677.08L594.92 678.6L594.99 680.11L595.06 681.63L595.14 683.14L595.21 684.65L595.28 686.16L595.35 687.66L595.42 689.17L595.5 690.68L595.57 692.18L595.64 693.68L595.72 695.18L595.79 696.69L595.87 698.19L595.94 699.69L596.02 701.18L596.1 702.68L596.17 704.18L596.25 705.68L596.33 707.17L596.41 708.67L596.49 710.16L596.57 711.65L596.65 713.15L596.74 714.64L596.82 716.13L596.91 717.63L596.99 719.12L597.08 720.61L597.17 722.1L597.25 723.59L597.34 725.08L597.43 726.57L597.53 728.07L597.62 729.56L597.71 731.05L597.81 732.54L597.9 734.03L598 735.52L598.1 737.01L598.2 738.51L598.3 740L598.4 741.49L598.51 742.98L598.61 744.48L598.72 745.97L598.83 747.47L598.93 748.96L599.04 750.46L599.16 751.95L599.27 753.45L599.39 754.95L599.5 756.45L599.62 757.95L599.74 759.45L599.86 760.95L599.98 762.45L600.11 763.96L600.23 765.46L600.36 766.97L600.49 768.47L600.62 769.98L600.76 771.49L600.89 773L601.03 774.51L601.17 776.03L601.31 777.54L601.45 779.06L601.6 780.57L601.74 782.09L601.89 783.61L602.04 785.14L602.19 786.66L602.35 788.19L602.51 789.71L602.67 791.24L602.83 792.77L602.99 794.31L603.16 795.84L603.33 797.37L603.51 798.91L603.69 800.44L603.88 801.97L604.07 803.5L604.27 805.03L604.48 806.56L604.7 808.08L604.92 809.61L605.16 811.12L605.4 812.64L605.66 814.15L605.92 815.65L606.2 817.15L606.49 818.65L606.8 820.13L607.12 821.62L607.45 823.09L607.79 824.56L608.16 826.02L608.53 827.47L608.93 828.91L609.34 830.34L609.77 831.77L610.22 833.18L610.68 834.58L611.17 835.97L611.67 837.35L612.2 838.72L612.75 840.08L613.32 841.42L613.91 842.76L614.52 844.07L615.16 845.38L615.83 846.67L616.51 847.94L617.23 849.2L617.97 850.44L618.73 851.67L619.53 852.88L620.35 854.07L621.2 855.24L622.09 856.39L623 857.52L623.94 858.63L624.92 859.72L625.93 860.79L626.97 861.84L628.05 862.86L629.16 863.85L630.31 864.83L631.5 865.77L632.72 866.69L633.98 867.59L635.28 868.45L636.62 869.29L638 870.1"/>
<path class="mn" d="M190.92 1091.6v7.49M221.28 1091.6v7.49M251.65 1091.6v7.49M282.01 1091.6v7.49M342.75 1091.6v7.49M373.11 1091.6v7.49M403.48 1091.6v7.49M433.84 1091.6v7.49M494.58 1091.6v7.49M524.94 1091.6v7.49M555.31 1091.6v7.49M585.67 1091.6v7.49M160.55 1089.34h-7.49M160.55 1071.44h-7.49M160.55 1035.65h-7.49M160.55 1017.76h-7.49M160.55 999.87h-7.49M160.55 981.97h-7.49M160.55 946.18h-7.49M160.55 928.29h-7.49M160.55 910.39h-7.49M160.55 892.5h-7.49M160.55 856.71h-7.49M160.55 838.81h-7.49M160.55 820.91h-7.49M160.55 803.02h-7.49M160.55 767.23h-7.49M160.55 749.34h-7.49M160.55 731.44h-7.49M160.55 713.55h-7.49M160.55 677.75h-7.49M160.55 659.86h-7.49"/>
<path class="mj" d="M160.55 1091.6v13.11M312.38 1091.6v13.11M464.21 1091.6v13.11M616.04 1091.6v13.11M160.55 1053.55h-13.11M160.55 964.08h-13.11M160.55 874.6h-13.11M160.55 785.12h-13.11M160.55 695.65h-13.11"/>
<rect class="sp" x="160.55" y="644.5" width="477.45" height="447.1"/>
<text class="tk" text-anchor="middle" transform="translate(160.55 1150.2) scale(1 1.06)">0</text>
<text class="tk" text-anchor="middle" transform="translate(312.38 1150.2) scale(1 1.06)">1</text>
<text class="tk" text-anchor="middle" transform="translate(464.21 1150.2) scale(1 1.06)">2</text>
<text class="tk" text-anchor="middle" transform="translate(616.04 1150.2) scale(1 1.06)">3</text>
<text class="tk" text-anchor="end" transform="translate(126.45 1066.3) scale(1 1.06)">−5.0</text>
<text class="tk" text-anchor="end" transform="translate(126.45 976.83) scale(1 1.06)">−2.5</text>
<text class="tk" text-anchor="end" transform="translate(126.45 887.35) scale(1 1.06)">0.0</text>
<text class="tk" text-anchor="end" transform="translate(126.45 797.88) scale(1 1.06)">2.5</text>
<text class="tk" text-anchor="end" transform="translate(126.45 708.4) scale(1 1.06)">5.0</text>
<text class="tk" transform="translate(160.25 633.2) scale(1 1.06)">1e−4</text>
<text class="lb" text-anchor="middle" x="399.27" y="1200.9">Time [h]</text>
<g transform="translate(29.7 868.05) rotate(-90)">
<text class="li" x="-66.2" y="0">η</text>
<text class="sb" x="-45" y="11.9">SEI</text>
<text class="lb" x="14.8" y="0">[V]</text>
</g>
</g>
<g id="ax5">
<path class="grid" d="M873.8 1091.6V644.5M1025.63 1091.6V644.5M1177.46 1091.6V644.5M1329.29 1091.6V644.5M873.8 1028.6H1351.25M873.8 907.35H1351.25M873.8 786.1H1351.25M873.8 664.85H1351.25"/>
<path class="ode" d="M873.8 771.9L874.71 773.09L875.69 774.21L876.74 775.28L877.85 776.28L879.01 777.23L880.23 778.12L881.49 778.96L882.78 779.75L884.11 780.49L885.47 781.19L886.85 781.84L888.25 782.45L889.65 783.02L891.06 783.55L892.47 784.05L893.88 784.52L895.29 784.95L896.7 785.36L898.12 785.75L899.53 786.12L900.96 786.47L902.4 786.8L903.84 787.12L905.3 787.44L906.78 787.75L908.27 788.05L909.78 788.36L911.3 788.67L912.85 788.98L914.41 789.29L915.98 789.56L917.53 789.76L919.07 789.87L920.57 789.86L922.02 789.7L923.41 789.37L924.72 788.85L925.92 788.13L926.98 787.23L927.87 786.14L928.57 784.88L929.14 783.49L929.61 782.04L930.03 780.57L930.4 779.1L930.73 777.63L931.01 776.16L931.26 774.68L931.48 773.19L931.67 771.7L931.84 770.2L931.98 768.7L932.1 767.19L932.2 765.67L932.3 764.14L932.38 762.61L932.47 761.07L932.56 759.54L932.67 758.01L932.79 756.48L932.92 754.96L933.09 753.44L933.29 751.94L933.52 750.45L933.8 748.97L934.13 747.51L934.51 746.07L934.95 744.65L935.45 743.25L936.03 741.89L936.7 740.59L937.52 739.4L938.5 738.38L939.66 737.54L940.93 736.85L942.26 736.27L943.63 735.78L945.02 735.37L946.43 735.03L947.86 734.75L949.31 734.53L950.79 734.35L952.28 734.22L953.79 734.11L955.31 734.03L956.86 733.96L958.41 733.89L959.98 733.83L961.56 733.75L963.15 733.66L964.74 733.55L966.32 733.39L967.89 733.2L969.43 732.95L970.93 732.64L972.39 732.26L973.79 731.8L975.14 731.25L976.42 730.6L977.61 729.86L978.72 728.99L979.74 728.01L980.66 726.92L981.51 725.74L982.28 724.48L982.98 723.14L983.62 721.76L984.21 720.33L984.74 718.88L985.24 717.42L985.7 715.95L986.14 714.5L986.55 713.06L986.94 711.64L987.32 710.22L987.68 708.8L988.03 707.38L988.37 705.96L988.72 704.52L989.06 703.07L989.4 701.6L989.75 700.11L990.12 698.6L990.5 697.09L990.9 695.58L991.34 694.08L991.8 692.6L992.31 691.14L992.85 689.7L993.45 688.31L994.1 686.96L994.81 685.65L995.58 684.41L996.43 683.23L997.34 682.12L998.32 681.07L999.37 680.09L1000.48 679.17L1001.64 678.3L1002.85 677.49L1004.11 676.72L1005.41 675.98L1006.71 675.26L1008.02 674.53L1009.31 673.78L1010.57 672.98L1011.77 672.12L1012.92 671.18L1013.98 670.14L1014.95 669L1015.91 667.83L1016.9 666.72L1018.01 665.74L1019.3 665L1020.31 666.27L1021.48 667.35L1022.78 668.24L1024.19 668.95L1025.68 669.49L1027.23 669.86L1028.82 670.09L1030.42 670.16L1032 670.1L1171.6 670.1L1174 731.5L1176.6 734.5L1179.1 733.3L1181.7 731.7L1182.22 733.08L1182.71 734.47L1183.19 735.87L1183.65 737.27L1184.09 738.68L1184.51 740.1L1184.92 741.52L1185.3 742.96L1185.68 744.39L1186.03 745.84L1186.37 747.28L1186.7 748.74L1187.01 750.2L1187.31 751.66L1187.6 753.13L1187.88 754.6L1188.14 756.08L1188.39 757.56L1188.64 759.04L1188.87 760.53L1189.1 762.02L1189.31 763.51L1189.52 765.01L1189.72 766.5L1189.92 768L1190.11 769.5L1190.29 771L1190.47 772.51L1190.64 774.01L1190.81 775.51L1190.98 777.02L1191.14 778.52L1191.3 780.02L1191.47 781.53L1191.63 783.03L1191.79 784.53L1191.95 786.03L1192.11 787.53L1192.27 789.02L1192.44 790.51L1192.6 792.01L1192.77 793.5L1192.94 794.98L1193.12 796.47L1193.29 797.95L1193.47 799.44L1193.64 800.92L1193.82 802.4L1194 803.88L1194.18 805.36L1194.36 806.84L1194.54 808.31L1194.72 809.79L1194.9 811.27L1195.08 812.74L1195.27 814.22L1195.45 815.7L1195.63 817.17L1195.81 818.65L1195.99 820.13L1196.17 821.61L1196.35 823.09L1196.53 824.57L1196.71 826.05L1196.89 827.53L1197.07 829.01L1197.24 830.5L1197.42 831.98L1197.59 833.47L1197.76 834.96L1197.93 836.45L1198.1 837.95L1198.26 839.44L1198.43 840.94L1198.59 842.44L1198.75 843.95L1198.9 845.45L1199.06 846.96L1199.21 848.47L1199.36 849.99L1199.5 851.51L1199.65 853.03L1199.79 854.56L1199.92 856.08L1200.05 857.62L1200.18 859.15L1200.31 860.69L1200.44 862.23L1200.58 863.77L1200.73 865.3L1200.91 866.82L1201.1 868.33L1201.32 869.82L1201.58 871.3L1201.88 872.75L1202.22 874.18L1202.61 875.58L1203.06 876.95L1203.56 878.28L1204.13 879.58L1204.78 880.84L1205.49 882.05L1206.29 883.22L1207.17 884.33L1208.18 885.14L1209.37 885.2L1210.68 884.7L1212.04 883.97L1213.41 883.2L1214.78 882.4L1216.15 881.59L1217.51 880.79L1218.87 880.02L1220.23 879.28L1221.59 878.57L1222.94 877.89L1224.31 877.25L1225.68 876.65L1227.06 876.1L1228.45 875.59L1229.86 875.13L1231.28 874.72L1232.73 874.37L1234.19 874.08L1235.69 873.84L1237.21 873.68L1238.76 873.58L1240.31 873.57L1241.83 873.69L1243.25 873.96L1244.55 874.43L1245.67 875.11L1246.59 876.04L1247.32 877.18L1247.89 878.51L1248.31 879.98L1248.63 881.55L1248.86 883.2L1249.03 884.87L1249.16 886.54L1249.29 888.17L1249.42 889.75L1249.56 891.28L1249.69 892.77L1249.83 894.23L1249.97 895.68L1250.1 897.11L1250.23 898.54L1250.36 899.98L1250.48 901.43L1250.6 902.88L1250.72 904.34L1250.83 905.81L1250.94 907.28L1251.04 908.76L1251.14 910.24L1251.24 911.73L1251.33 913.23L1251.42 914.73L1251.51 916.23L1251.6 917.73L1251.68 919.24L1251.76 920.75L1251.84 922.26L1251.92 923.78L1251.99 925.29L1252.06 926.81L1252.13 928.32L1252.2 929.84L1252.27 931.36L1252.33 932.87L1252.4 934.38L1252.46 935.89L1252.52 937.4L1252.58 938.91L1252.64 940.41L1252.7 941.92L1252.76 943.42L1252.81 944.92L1252.87 946.42L1252.93 947.92L1252.99 949.41L1253.04 950.91L1253.1 952.4L1253.16 953.9L1253.21 955.39L1253.27 956.88L1253.33 958.37L1253.39 959.86L1253.45 961.35L1253.51 962.84L1253.58 964.33L1253.64 965.82L1253.71 967.31L1253.78 968.8L1253.85 970.28L1253.92 971.77L1253.99 973.26L1254.07 974.75L1254.14 976.24L1254.22 977.73L1254.31 979.22L1254.39 980.71L1254.48 982.21L1254.57 983.7L1254.66 985.19L1254.76 986.69L1254.86 988.18L1254.97 989.68L1255.07 991.18L1255.18 992.68L1255.3 994.18L1255.42 995.69L1255.54 997.19L1255.67 998.7L1255.8 1000.21L1255.94 1001.72L1256.08 1003.23L1256.22 1004.75L1256.37 1006.26L1256.53 1007.78L1256.69 1009.31L1256.85 1010.83L1257.02 1012.36L1257.2 1013.89L1257.38 1015.42L1257.58 1016.95L1257.81 1018.46L1258.07 1019.94L1258.39 1021.39L1258.78 1022.79L1259.25 1024.13L1259.81 1025.41L1260.47 1026.6L1261.26 1027.7L1262.17 1028.7L1263.23 1029.58L1264.45 1030.35L1265.8 1031L1267.27 1031.57L1268.8 1032.08L1270.38 1032.56L1271.96 1033.03L1273.51 1033.52L1275.01 1034.06L1276.43 1034.66L1277.79 1035.3L1279.1 1036L1280.37 1036.74L1281.61 1037.51L1282.82 1038.33L1284.02 1039.18L1285.19 1040.06L1286.35 1040.97L1287.49 1041.92L1288.6 1042.89L1289.7 1043.9L1290.77 1044.93L1291.82 1045.99L1292.85 1047.08L1293.86 1048.19L1294.84 1049.32L1295.8 1050.48L1296.73 1051.66L1297.65 1052.86L1298.53 1054.08L1299.4 1055.32L1300.23 1056.58L1301.05 1057.85L1301.83 1059.14L1302.6 1060.45L1303.33 1061.77L1304.04 1063.1L1304.72 1064.44L1305.37 1065.8L1306 1067.16L1306.59 1068.53L1307.16 1069.91L1307.7 1071.3L1307.8 1069.8L1307.9 1068.3L1307.99 1066.81L1308.08 1065.31L1308.16 1063.81L1308.24 1062.31L1308.32 1060.81L1308.4 1059.31L1308.47 1057.8L1308.54 1056.3L1308.61 1054.8L1308.68 1053.3L1308.74 1051.79L1308.8 1050.29L1308.86 1048.78L1308.92 1047.28L1308.97 1045.77L1309.03 1044.27L1309.08 1042.76L1309.13 1041.26L1309.18 1039.75L1309.23 1038.24L1309.27 1036.74L1309.32 1035.23L1309.37 1033.72L1309.41 1032.21L1309.46 1030.71L1309.5 1029.2L1309.55 1027.69L1309.59 1026.18L1309.64 1024.67L1309.68 1023.16L1309.73 1021.65L1309.77 1020.14L1309.82 1018.64L1309.87 1017.13L1309.91 1015.62L1309.96 1014.11L1310.01 1012.6L1310.07 1011.09L1310.12 1009.58L1310.17 1008.07L1310.23 1006.56L1310.29 1005.05L1310.35 1003.54L1310.41 1002.03L1310.48 1000.52L1310.54 999.01L1310.61 997.5L1310.69 995.99L1310.76 994.48L1310.84 992.97L1310.92 991.46L1311.01 989.95L1311.09 988.44L1311.19 986.93L1311.28 985.42L1311.38 983.91L1311.48 982.4L1311.59 980.9L1311.7 979.39L1311.81 977.88L1311.93 976.37L1312.06 974.86L1312.19 973.36L1312.32 971.85L1312.46 970.34L1312.6 968.84L1312.75 967.33L1312.91 965.83L1313.07 964.32L1313.23 962.82L1313.4 961.31L1313.58 959.81L1313.76 958.31L1313.95 956.8L1314.15 955.3L1314.35 953.8L1314.56 952.3L1314.77 950.8L1314.99 949.29L1315.22 947.79L1315.46 946.29L1315.7 944.8L1315.95 943.3L1316.21 941.8L1316.48 940.3L1316.75 938.81L1317.03 937.31L1317.32 935.81L1317.62 934.32L1317.93 932.82L1318.24 931.33L1318.57 929.84L1318.9 928.35L1319.25 926.86L1319.6 925.38L1319.98 923.9L1320.36 922.43L1320.76 920.97L1321.18 919.52L1321.62 918.07L1322.07 916.64L1322.54 915.22L1323.04 913.81L1323.56 912.41L1324.09 911.03L1324.66 909.67L1325.25 908.32L1325.86 906.99L1326.51 905.68L1327.18 904.39L1327.88 903.12L1328.61 901.87L1329.37 900.65L1330.16 899.45L1330.99 898.27L1331.85 897.13L1332.75 896.01L1333.69 894.91L1334.66 893.85L1335.67 892.82L1336.73 891.82L1337.82 890.85L1338.96 889.92L1340.13 889.02L1341.36 888.15L1342.63 887.33L1343.94 886.54L1345.3 885.79L1346.71 885.08L1348.18 884.41L1349.69 883.78L1351.25 883.2"/>
<path class="dae" d="M873.8 771.9L874.71 773.09L875.69 774.21L876.74 775.28L877.85 776.28L879.01 777.23L880.23 778.12L881.49 778.96L882.78 779.75L884.11 780.49L885.47 781.19L886.85 781.84L888.25 782.45L889.65 783.02L891.06 783.55L892.47 784.05L893.88 784.52L895.29 784.95L896.7 785.36L898.12 785.75L899.53 786.12L900.96 786.47L902.4 786.8L903.84 787.12L905.3 787.44L906.78 787.75L908.27 788.05L909.78 788.36L911.3 788.67L912.85 788.98L914.41 789.29L915.98 789.56L917.53 789.76L919.07 789.87L920.57 789.86L922.02 789.7L923.41 789.37L924.72 788.85L925.92 788.13L926.98 787.23L927.87 786.14L928.57 784.88L929.14 783.49L929.61 782.04L930.03 780.57L930.4 779.1L930.73 777.63L931.01 776.16L931.26 774.68L931.48 773.19L931.67 771.7L931.84 770.2L931.98 768.7L932.1 767.19L932.2 765.67L932.3 764.14L932.38 762.61L932.47 761.07L932.56 759.54L932.67 758.01L932.79 756.48L932.92 754.96L933.09 753.44L933.29 751.94L933.52 750.45L933.8 748.97L934.13 747.51L934.51 746.07L934.95 744.65L935.45 743.25L936.03 741.89L936.7 740.59L937.52 739.4L938.5 738.38L939.66 737.54L940.93 736.85L942.26 736.27L943.63 735.78L945.02 735.37L946.43 735.03L947.86 734.75L949.31 734.53L950.79 734.35L952.28 734.22L953.79 734.11L955.31 734.03L956.86 733.96L958.41 733.89L959.98 733.83L961.56 733.75L963.15 733.66L964.74 733.55L966.32 733.39L967.89 733.2L969.43 732.95L970.93 732.64L972.39 732.26L973.79 731.8L975.14 731.25L976.42 730.6L977.61 729.86L978.72 728.99L979.74 728.01L980.66 726.92L981.51 725.74L982.28 724.48L982.98 723.14L983.62 721.76L984.21 720.33L984.74 718.88L985.24 717.42L985.7 715.95L986.14 714.5L986.55 713.06L986.94 711.64L987.32 710.22L987.68 708.8L988.03 707.38L988.37 705.96L988.72 704.52L989.06 703.07L989.4 701.6L989.75 700.11L990.12 698.6L990.5 697.09L990.9 695.58L991.34 694.08L991.8 692.6L992.31 691.14L992.85 689.7L993.45 688.31L994.1 686.96L994.81 685.65L995.58 684.41L996.43 683.23L997.34 682.12L998.32 681.07L999.37 680.09L1000.48 679.17L1001.64 678.3L1002.85 677.49L1004.11 676.72L1005.41 675.98L1006.71 675.26L1008.02 674.53L1009.31 673.78L1010.57 672.98L1011.77 672.12L1012.92 671.18L1013.98 670.14L1014.95 669L1015.91 667.83L1016.9 666.72L1018.01 665.74L1019.3 665L1020.31 666.27L1021.48 667.35L1022.78 668.24L1024.19 668.95L1025.68 669.49L1027.23 669.86L1028.82 670.09L1030.42 670.16L1032 670.1L1171.6 670.1L1174 731.5L1176.6 734.5L1179.1 733.3L1181.7 731.7L1182.22 733.08L1182.71 734.47L1183.19 735.87L1183.65 737.27L1184.09 738.68L1184.51 740.1L1184.92 741.52L1185.3 742.96L1185.68 744.39L1186.03 745.84L1186.37 747.28L1186.7 748.74L1187.01 750.2L1187.31 751.66L1187.6 753.13L1187.88 754.6L1188.14 756.08L1188.39 757.56L1188.64 759.04L1188.87 760.53L1189.1 762.02L1189.31 763.51L1189.52 765.01L1189.72 766.5L1189.92 768L1190.11 769.5L1190.29 771L1190.47 772.51L1190.64 774.01L1190.81 775.51L1190.98 777.02L1191.14 778.52L1191.3 780.02L1191.47 781.53L1191.63 783.03L1191.79 784.53L1191.95 786.03L1192.11 787.53L1192.27 789.02L1192.44 790.51L1192.6 792.01L1192.77 793.5L1192.94 794.98L1193.12 796.47L1193.29 797.95L1193.47 799.44L1193.64 800.92L1193.82 802.4L1194 803.88L1194.18 805.36L1194.36 806.84L1194.54 808.31L1194.72 809.79L1194.9 811.27L1195.08 812.74L1195.27 814.22L1195.45 815.7L1195.63 817.17L1195.81 818.65L1195.99 820.13L1196.17 821.61L1196.35 823.09L1196.53 824.57L1196.71 826.05L1196.89 827.53L1197.07 829.01L1197.24 830.5L1197.42 831.98L1197.59 833.47L1197.76 834.96L1197.93 836.45L1198.1 837.95L1198.26 839.44L1198.43 840.94L1198.59 842.44L1198.75 843.95L1198.9 845.45L1199.06 846.96L1199.21 848.47L1199.36 849.99L1199.5 851.51L1199.65 853.03L1199.79 854.56L1199.92 856.08L1200.05 857.62L1200.18 859.15L1200.31 860.69L1200.44 862.23L1200.58 863.77L1200.73 865.3L1200.91 866.82L1201.1 868.33L1201.32 869.82L1201.58 871.3L1201.88 872.75L1202.22 874.18L1202.61 875.58L1203.06 876.95L1203.56 878.28L1204.13 879.58L1204.78 880.84L1205.49 882.05L1206.29 883.22L1207.17 884.33L1208.18 885.14L1209.37 885.2L1210.68 884.7L1212.04 883.97L1213.41 883.2L1214.78 882.4L1216.15 881.59L1217.51 880.79L1218.87 880.02L1220.23 879.28L1221.59 878.57L1222.94 877.89L1224.31 877.25L1225.68 876.65L1227.06 876.1L1228.45 875.59L1229.86 875.13L1231.28 874.72L1232.73 874.37L1234.19 874.08L1235.69 873.84L1237.21 873.68L1238.76 873.58L1240.31 873.57L1241.83 873.69L1243.25 873.96L1244.55 874.43L1245.67 875.11L1246.59 876.04L1247.32 877.18L1247.89 878.51L1248.31 879.98L1248.63 881.55L1248.86 883.2L1249.03 884.87L1249.16 886.54L1249.29 888.17L1249.42 889.75L1249.56 891.28L1249.69 892.77L1249.83 894.23L1249.97 895.68L1250.1 897.11L1250.23 898.54L1250.36 899.98L1250.48 901.43L1250.6 902.88L1250.72 904.34L1250.83 905.81L1250.94 907.28L1251.04 908.76L1251.14 910.24L1251.24 911.73L1251.33 913.23L1251.42 914.73L1251.51 916.23L1251.6 917.73L1251.68 919.24L1251.76 920.75L1251.84 922.26L1251.92 923.78L1251.99 925.29L1252.06 926.81L1252.13 928.32L1252.2 929.84L1252.27 931.36L1252.33 932.87L1252.4 934.38L1252.46 935.89L1252.52 937.4L1252.58 938.91L1252.64 940.41L1252.7 941.92L1252.76 943.42L1252.81 944.92L1252.87 946.42L1252.93 947.92L1252.99 949.41L1253.04 950.91L1253.1 952.4L1253.16 953.9L1253.21 955.39L1253.27 956.88L1253.33 958.37L1253.39 959.86L1253.45 961.35L1253.51 962.84L1253.58 964.33L1253.64 965.82L1253.71 967.31L1253.78 968.8L1253.85 970.28L1253.92 971.77L1253.99 973.26L1254.07 974.75L1254.14 976.24L1254.22 977.73L1254.31 979.22L1254.39 980.71L1254.48 982.21L1254.57 983.7L1254.66 985.19L1254.76 986.69L1254.86 988.18L1254.97 989.68L1255.07 991.18L1255.18 992.68L1255.3 994.18L1255.42 995.69L1255.54 997.19L1255.67 998.7L1255.8 1000.21L1255.94 1001.72L1256.08 1003.23L1256.22 1004.75L1256.37 1006.26L1256.53 1007.78L1256.69 1009.31L1256.85 1010.83L1257.02 1012.36L1257.2 1013.89L1257.38 1015.42L1257.58 1016.95L1257.81 1018.46L1258.07 1019.94L1258.39 1021.39L1258.78 1022.79L1259.25 1024.13L1259.81 1025.41L1260.47 1026.6L1261.26 1027.7L1262.17 1028.7L1263.23 1029.58L1264.45 1030.35L1265.8 1031L1267.27 1031.57L1268.8 1032.08L1270.38 1032.56L1271.96 1033.03L1273.51 1033.52L1275.01 1034.06L1276.43 1034.66L1277.79 1035.3L1279.1 1036L1280.37 1036.74L1281.61 1037.51L1282.82 1038.33L1284.02 1039.18L1285.19 1040.06L1286.35 1040.97L1287.49 1041.92L1288.6 1042.89L1289.7 1043.9L1290.77 1044.93L1291.82 1045.99L1292.85 1047.08L1293.86 1048.19L1294.84 1049.32L1295.8 1050.48L1296.73 1051.66L1297.65 1052.86L1298.53 1054.08L1299.4 1055.32L1300.23 1056.58L1301.05 1057.85L1301.83 1059.14L1302.6 1060.45L1303.33 1061.77L1304.04 1063.1L1304.72 1064.44L1305.37 1065.8L1306 1067.16L1306.59 1068.53L1307.16 1069.91L1307.7 1071.3L1307.8 1069.8L1307.9 1068.3L1307.99 1066.81L1308.08 1065.31L1308.16 1063.81L1308.24 1062.31L1308.32 1060.81L1308.4 1059.31L1308.47 1057.8L1308.54 1056.3L1308.61 1054.8L1308.68 1053.3L1308.74 1051.79L1308.8 1050.29L1308.86 1048.78L1308.92 1047.28L1308.97 1045.77L1309.03 1044.27L1309.08 1042.76L1309.13 1041.26L1309.18 1039.75L1309.23 1038.24L1309.27 1036.74L1309.32 1035.23L1309.37 1033.72L1309.41 1032.21L1309.46 1030.71L1309.5 1029.2L1309.55 1027.69L1309.59 1026.18L1309.64 1024.67L1309.68 1023.16L1309.73 1021.65L1309.77 1020.14L1309.82 1018.64L1309.87 1017.13L1309.91 1015.62L1309.96 1014.11L1310.01 1012.6L1310.07 1011.09L1310.12 1009.58L1310.17 1008.07L1310.23 1006.56L1310.29 1005.05L1310.35 1003.54L1310.41 1002.03L1310.48 1000.52L1310.54 999.01L1310.61 997.5L1310.69 995.99L1310.76 994.48L1310.84 992.97L1310.92 991.46L1311.01 989.95L1311.09 988.44L1311.19 986.93L1311.28 985.42L1311.38 983.91L1311.48 982.4L1311.59 980.9L1311.7 979.39L1311.81 977.88L1311.93 976.37L1312.06 974.86L1312.19 973.36L1312.32 971.85L1312.46 970.34L1312.6 968.84L1312.75 967.33L1312.91 965.83L1313.07 964.32L1313.23 962.82L1313.4 961.31L1313.58 959.81L1313.76 958.31L1313.95 956.8L1314.15 955.3L1314.35 953.8L1314.56 952.3L1314.77 950.8L1314.99 949.29L1315.22 947.79L1315.46 946.29L1315.7 944.8L1315.95 943.3L1316.21 941.8L1316.48 940.3L1316.75 938.81L1317.03 937.31L1317.32 935.81L1317.62 934.32L1317.93 932.82L1318.24 931.33L1318.57 929.84L1318.9 928.35L1319.25 926.86L1319.6 925.38L1319.98 923.9L1320.36 922.43L1320.76 920.97L1321.18 919.52L1321.62 918.07L1322.07 916.64L1322.54 915.22L1323.04 913.81L1323.56 912.41L1324.09 911.03L1324.66 909.67L1325.25 908.32L1325.86 906.99L1326.51 905.68L1327.18 904.39L1327.88 903.12L1328.61 901.87L1329.37 900.65L1330.16 899.45L1330.99 898.27L1331.85 897.13L1332.75 896.01L1333.69 894.91L1334.66 893.85L1335.67 892.82L1336.73 891.82L1337.82 890.85L1338.96 889.92L1340.13 889.02L1341.36 888.15L1342.63 887.33L1343.94 886.54L1345.3 885.79L1346.71 885.08L1348.18 884.41L1349.69 883.78L1351.25 883.2"/>
<path class="mn" d="M904.17 1091.6v7.49M934.53 1091.6v7.49M964.9 1091.6v7.49M995.26 1091.6v7.49M1056 1091.6v7.49M1086.36 1091.6v7.49M1116.73 1091.6v7.49M1147.09 1091.6v7.49M1207.83 1091.6v7.49M1238.19 1091.6v7.49M1268.56 1091.6v7.49M1298.92 1091.6v7.49M873.8 1077.1h-7.49M873.8 1052.85h-7.49M873.8 1004.35h-7.49M873.8 980.1h-7.49M873.8 955.85h-7.49M873.8 931.6h-7.49M873.8 883.1h-7.49M873.8 858.85h-7.49M873.8 834.6h-7.49M873.8 810.35h-7.49M873.8 761.85h-7.49M873.8 737.6h-7.49M873.8 713.35h-7.49M873.8 689.1h-7.49"/>
<path class="mj" d="M873.8 1091.6v13.11M1025.63 1091.6v13.11M1177.46 1091.6v13.11M1329.29 1091.6v13.11M873.8 1028.6h-13.11M873.8 907.35h-13.11M873.8 786.1h-13.11M873.8 664.85h-13.11"/>
<rect class="sp" x="873.8" y="644.5" width="477.45" height="447.1"/>
<text class="tk" text-anchor="middle" transform="translate(873.8 1150.2) scale(1 1.06)">0</text>
<text class="tk" text-anchor="middle" transform="translate(1025.63 1150.2) scale(1 1.06)">1</text>
<text class="tk" text-anchor="middle" transform="translate(1177.46 1150.2) scale(1 1.06)">2</text>
<text class="tk" text-anchor="middle" transform="translate(1329.29 1150.2) scale(1 1.06)">3</text>
<text class="tk" text-anchor="end" transform="translate(839.7 1041.35) scale(1 1.06)">−3</text>
<text class="tk" text-anchor="end" transform="translate(839.7 920.1) scale(1 1.06)">−2</text>
<text class="tk" text-anchor="end" transform="translate(839.7 798.85) scale(1 1.06)">−1</text>
<text class="tk" text-anchor="end" transform="translate(839.7 677.6) scale(1 1.06)">0</text>
<text class="tk" transform="translate(873.5 633.2) scale(1 1.06)">1e−4</text>
<text class="lb" text-anchor="middle" x="1112.53" y="1200.9">Time [h]</text>
<g transform="translate(769.25 868.05) rotate(-90)">
<text class="li" x="-93.9" y="0">j</text>
<text class="sb" x="-85.3" y="11.9">SEI</text>
<text class="lb" x="-24.85" y="0">[A/m</text>
<text class="sb" x="60.55" y="-29.3">2</text>
<text class="lb" x="79.1" y="0">]</text>
</g>
</g>
<g id="ax6">
<path class="grid" d="M1587.05 1091.6V644.5M1738.88 1091.6V644.5M1890.71 1091.6V644.5M2042.54 1091.6V644.5M1587.05 1070.8H2064.5M1587.05 927.2H2064.5M1587.05 783.6H2064.5"/>
<path class="ode" d="M1587.05 1071L1645.8 1021.2L1705.3 992.7L1713 991.8L1725 991.2L1768.15 989.96L1803.8 988.77L1839.45 987.58L1863.22 986.7L1885.8 985.9L1887.26 985.46L1888.7 984.97L1890.12 984.43L1891.52 983.85L1892.89 983.22L1894.24 982.55L1895.57 981.83L1896.87 981.08L1898.15 980.28L1899.41 979.45L1900.64 978.58L1901.85 977.68L1903.04 976.75L1904.2 975.78L1905.34 974.78L1906.46 973.76L1907.55 972.71L1908.62 971.63L1909.66 970.53L1910.68 969.4L1911.67 968.26L1912.64 967.1L1913.59 965.91L1914.51 964.71L1915.4 963.5L1964.9 887.4L1965.48 886.01L1966.07 884.62L1966.65 883.23L1967.23 881.84L1967.81 880.45L1968.39 879.06L1968.97 877.67L1969.55 876.27L1970.13 874.88L1970.71 873.49L1971.29 872.1L1971.86 870.7L1972.44 869.31L1973.02 867.92L1973.59 866.52L1974.17 865.13L1974.74 863.73L1975.31 862.34L1975.89 860.94L1976.46 859.55L1977.03 858.15L1977.6 856.75L1978.17 855.36L1978.74 853.96L1979.31 852.56L1979.88 851.17L1980.45 849.77L1981.01 848.37L1981.58 846.97L1982.14 845.57L1982.71 844.17L1983.27 842.77L1983.83 841.37L1984.39 839.97L1984.96 838.57L1985.52 837.17L1986.07 835.77L1986.63 834.37L1987.19 832.97L1987.75 831.56L1988.3 830.16L1988.86 828.76L1989.41 827.35L1989.96 825.95L1990.52 824.55L1991.07 823.14L1991.62 821.74L1992.17 820.33L1992.71 818.92L1993.26 817.52L1993.81 816.11L1994.35 814.7L1994.9 813.3L1995.44 811.89L1995.98 810.48L1996.52 809.07L1997.06 807.66L1997.6 806.25L1998.14 804.84L1998.68 803.43L1999.21 802.02L1999.75 800.61L2000.28 799.2L2000.81 797.79L2001.34 796.38L2001.87 794.96L2002.4 793.55L2002.93 792.14L2003.45 790.72L2003.98 789.31L2004.5 787.89L2005.02 786.48L2005.55 785.06L2006.07 783.65L2006.59 782.23L2007.1 780.81L2007.62 779.4L2008.13 777.98L2008.65 776.56L2009.16 775.14L2009.67 773.72L2010.18 772.3L2010.69 770.88L2011.2 769.46L2011.7 768.04L2012.21 766.62L2012.71 765.2L2013.21 763.78L2013.71 762.35L2014.21 760.93L2014.71 759.51L2015.2 758.08L2015.7 756.66L2016.19 755.23L2016.68 753.81L2017.17 752.38L2017.66 750.96L2018.15 749.53L2018.63 748.1L2019.12 746.67L2019.6 745.25L2020.08 743.82L2020.56 742.39L2021.04 740.96L2021.51 739.53L2021.99 738.1L2022.46 736.66L2022.93 735.23L2023.4 733.8L2023.87 732.37L2024.34 730.93L2024.8 729.5L2028.5 721.3L2033.4 712.8L2043.8 695.5L2056 678.1L2064.5 665.6"/>
<path class="dae" d="M1587.05 1071L1645.8 1021.2L1705.3 992.7L1713 991.8L1725 991.2L1768.15 989.96L1803.8 988.77L1839.45 987.58L1863.22 986.7L1885.8 985.9L1887.26 985.46L1888.7 984.97L1890.12 984.43L1891.52 983.85L1892.89 983.22L1894.24 982.55L1895.57 981.83L1896.87 981.08L1898.15 980.28L1899.41 979.45L1900.64 978.58L1901.85 977.68L1903.04 976.75L1904.2 975.78L1905.34 974.78L1906.46 973.76L1907.55 972.71L1908.62 971.63L1909.66 970.53L1910.68 969.4L1911.67 968.26L1912.64 967.1L1913.59 965.91L1914.51 964.71L1915.4 963.5L1964.9 887.4L1965.48 886.01L1966.07 884.62L1966.65 883.23L1967.23 881.84L1967.81 880.45L1968.39 879.06L1968.97 877.67L1969.55 876.27L1970.13 874.88L1970.71 873.49L1971.29 872.1L1971.86 870.7L1972.44 869.31L1973.02 867.92L1973.59 866.52L1974.17 865.13L1974.74 863.73L1975.31 862.34L1975.89 860.94L1976.46 859.55L1977.03 858.15L1977.6 856.75L1978.17 855.36L1978.74 853.96L1979.31 852.56L1979.88 851.17L1980.45 849.77L1981.01 848.37L1981.58 846.97L1982.14 845.57L1982.71 844.17L1983.27 842.77L1983.83 841.37L1984.39 839.97L1984.96 838.57L1985.52 837.17L1986.07 835.77L1986.63 834.37L1987.19 832.97L1987.75 831.56L1988.3 830.16L1988.86 828.76L1989.41 827.35L1989.96 825.95L1990.52 824.55L1991.07 823.14L1991.62 821.74L1992.17 820.33L1992.71 818.92L1993.26 817.52L1993.81 816.11L1994.35 814.7L1994.9 813.3L1995.44 811.89L1995.98 810.48L1996.52 809.07L1997.06 807.66L1997.6 806.25L1998.14 804.84L1998.68 803.43L1999.21 802.02L1999.75 800.61L2000.28 799.2L2000.81 797.79L2001.34 796.38L2001.87 794.96L2002.4 793.55L2002.93 792.14L2003.45 790.72L2003.98 789.31L2004.5 787.89L2005.02 786.48L2005.55 785.06L2006.07 783.65L2006.59 782.23L2007.1 780.81L2007.62 779.4L2008.13 777.98L2008.65 776.56L2009.16 775.14L2009.67 773.72L2010.18 772.3L2010.69 770.88L2011.2 769.46L2011.7 768.04L2012.21 766.62L2012.71 765.2L2013.21 763.78L2013.71 762.35L2014.21 760.93L2014.71 759.51L2015.2 758.08L2015.7 756.66L2016.19 755.23L2016.68 753.81L2017.17 752.38L2017.66 750.96L2018.15 749.53L2018.63 748.1L2019.12 746.67L2019.6 745.25L2020.08 743.82L2020.56 742.39L2021.04 740.96L2021.51 739.53L2021.99 738.1L2022.46 736.66L2022.93 735.23L2023.4 733.8L2023.87 732.37L2024.34 730.93L2024.8 729.5L2028.5 721.3L2033.4 712.8L2043.8 695.5L2056 678.1L2064.5 665.6"/>
<path class="mn" d="M1617.42 1091.6v7.49M1647.78 1091.6v7.49M1678.15 1091.6v7.49M1708.51 1091.6v7.49M1769.25 1091.6v7.49M1799.61 1091.6v7.49M1829.98 1091.6v7.49M1860.34 1091.6v7.49M1921.08 1091.6v7.49M1951.44 1091.6v7.49M1981.81 1091.6v7.49M2012.17 1091.6v7.49M1587.05 1034.9h-7.49M1587.05 999h-7.49M1587.05 963.1h-7.49M1587.05 891.3h-7.49M1587.05 855.4h-7.49M1587.05 819.5h-7.49M1587.05 747.7h-7.49M1587.05 711.8h-7.49M1587.05 675.9h-7.49"/>
<path class="mj" d="M1587.05 1091.6v13.11M1738.88 1091.6v13.11M1890.71 1091.6v13.11M2042.54 1091.6v13.11M1587.05 1070.8h-13.11M1587.05 927.2h-13.11M1587.05 783.6h-13.11"/>
<rect class="sp" x="1587.05" y="644.5" width="477.45" height="447.1"/>
<text class="tk" text-anchor="middle" transform="translate(1587.05 1150.2) scale(1 1.06)">0</text>
<text class="tk" text-anchor="middle" transform="translate(1738.88 1150.2) scale(1 1.06)">1</text>
<text class="tk" text-anchor="middle" transform="translate(1890.71 1150.2) scale(1 1.06)">2</text>
<text class="tk" text-anchor="middle" transform="translate(2042.54 1150.2) scale(1 1.06)">3</text>
<text class="tk" text-anchor="end" transform="translate(1552.95 1083.55) scale(1 1.06)">0.00</text>
<text class="tk" text-anchor="end" transform="translate(1552.95 939.95) scale(1 1.06)">0.02</text>
<text class="tk" text-anchor="end" transform="translate(1552.95 796.35) scale(1 1.06)">0.04</text>
<text class="lb" text-anchor="middle" x="1825.78" y="1200.9">Time [h]</text>
<g transform="translate(1464.65 868.05) rotate(-90)">
<text class="lb" x="-64.4" y="0">LLI</text>
<text class="lb" x="4.4" y="0">[%]</text>
</g>
</g>
<g id="legend">
<path class="ode" d="M573.05 1254H655.35"/>
<text class="lb" x="688.25" y="1267.5">ODE formulation</text>
<path class="dae" d="M1075.6 1254H1157.9"/>
<text class="lb" x="1190.2" y="1267.5">DAE formulation</text>
</g>
</svg>
</body>
</html>
